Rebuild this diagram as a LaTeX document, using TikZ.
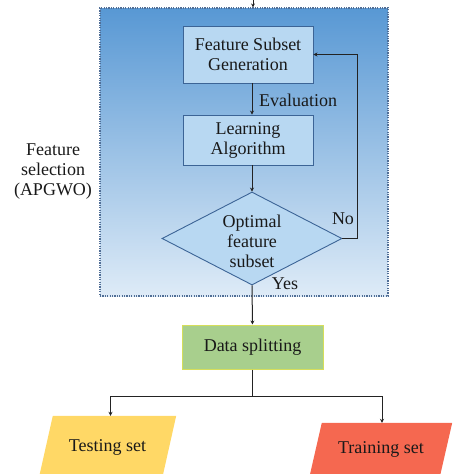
\documentclass[tikz,border=0pt]{standalone}
\usepackage{fontspec}
\setmainfont{Liberation Serif}
\usetikzlibrary{shapes.geometric,arrows.meta}
\definecolor{outtop}{RGB}{88,152,212}
\definecolor{outbot}{RGB}{222,235,247}
\definecolor{outline}{RGB}{80,110,150}
\definecolor{bluefill}{RGB}{184,216,242}
\definecolor{blueedge}{RGB}{60,100,150}
\definecolor{greenfill}{RGB}{168,207,141}
\definecolor{greenedge}{RGB}{214,222,90}
\definecolor{yellowfill}{RGB}{255,216,102}
\definecolor{redfill}{RGB}{245,104,80}
\definecolor{linec}{RGB}{35,35,35}
\tikzset{
  txt/.style={font=\fontsize{18}{20}\selectfont, text=black!90},
  bluebox/.style={txt, draw=blueedge, line width=0.9pt, fill=bluefill, align=center, inner sep=0pt},
  arr/.style={draw=linec, line width=1pt, -{Stealth[length=4pt,width=4pt]}},
  ln/.style={draw=linec, line width=1pt},
}
\begin{document}
\begin{tikzpicture}[x=1pt,y=-1pt]
\useasboundingbox (0,0) rectangle (474,474);
% outer feature selection region
\node[draw=outline, dash pattern=on 1.2pt off 1.2pt, line width=1.1pt, top color=outtop, bottom color=outbot,
      minimum width=288pt, minimum height=288pt, inner sep=0pt] (fs) at (244,152) {};
\node[txt, align=center] (fslab) at (53,172) {Feature\\selection\\(APGWO)};
\coordinate (entry) at (253,-2);
\draw[arr] (entry) -- (entry |- fs.north);
% boxes
\node[bluebox, minimum width=130pt, minimum height=57pt] (gen) at (248,54.5) {Feature Subset\\Generation};
\node[bluebox, minimum width=130pt, minimum height=50pt] (alg) at (248,140) {Learning\\Algorithm};
\node[diamond, draw=blueedge, line width=0.9pt, fill=bluefill, minimum width=180pt, minimum height=93pt, inner sep=0pt] (dia) at (252,238.5) {};
\node[txt, align=center] (diatext) at (252,241) {Optimal\\feature\\subset};
\draw[arr] (gen.south -| dia.north) -- (alg.north -| dia.north);
\node[txt] (eval) at (298,100) {Evaluation};
\draw[arr] (alg.south -| dia.north) -- (dia.north);
\draw[arr] (dia.east) -- ++(15,0) |- (gen.east);
\node[txt] (no) at (343,219) {No};
\node[txt] (yes) at (285,284) {Yes};
% data splitting
\node[txt, draw=greenedge, line width=1pt, fill=greenfill, minimum width=141pt, minimum height=44pt] (split) at (252.5,347) {Data splitting};
\draw[arr] (dia.south) -- (split.north);
\coordinate (fork) at (252.5,396);
% output sets
\node[txt, minimum width=123pt, minimum height=62pt, inner sep=0pt] (test) at (107.5,447) {};
\fill[yellowfill] ([xshift=7pt]test.north west) -- ([xshift=7pt]test.north east) -- ([xshift=-7pt]test.south east) -- ([xshift=-7pt]test.south west) -- cycle;
\node[txt] (testtxt) at (test) {Testing set};
\node[txt, minimum width=130pt, minimum height=52pt, inner sep=0pt] (train) at (381,449) {};
\fill[redfill] ([xshift=6pt]train.north west) -- ([xshift=6pt]train.north east) -- ([xshift=-6pt]train.south east) -- ([xshift=-6pt]train.south west) -- cycle;
\node[txt] (traintxt) at (train) {Training set};
\draw[ln] (split.south) -- (fork);
\draw[arr] (fork) -| ([xshift=3pt]test.north);
\draw[arr] (fork) -| ([xshift=1pt]train.north);
\end{tikzpicture}
\end{document}
